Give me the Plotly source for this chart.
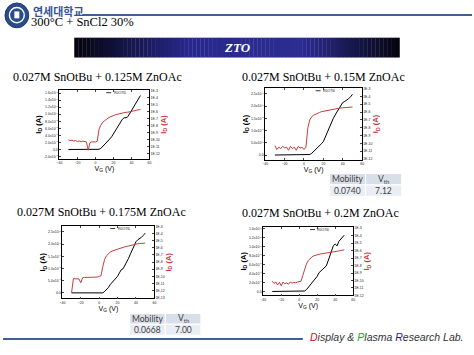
import plotly.graph_objects as go

W, H = 474, 355

# ---------------- data ----------------
VG = [-30, -28, -26, -24, -22, -20, -18, -16, -14, -12, -10, -8, -6, -4, -2, 0, 2,
      4, 6, 8, 10, 12, 14, 16, 18, 20, 22, 24, 26, 28, 30, 32, 34, 36, 38, 40, 42, 44, 46, 48, 50]

# drain current, units of 1e-7 A (linear, black)
ID_125 = [0, 0, 0, 0, 0, 0, 0, 0, 0, 0, 0, 0, 0, 0, 0, 0, 0,
          0.05, 0.3, 0.8, 1.3, 1.8, 2.4, 3.0, 3.6, 4.4, 5.2, 6.0, 6.8, 7.8, 8.6, 9.0, 9.0, 9.3, 10.2, 11.0, 11.9, 12.8, 13.6, 14.5, 15.3]
ID_150 = [0, 0, 0, 0, 0, 0, 0, 0, 0, 0, 0, 0, 0, 0, 0, 0, 0, 0,
          0.2, 0.7, 1.4, 2.2, 3.0, 3.8, 4.6, 5.5, 7.5, 9.5, 11.5, 13.3, 14.8, 16.3, 17.7, 19.2, 20.5, 21.5, 21.9, 22.3, 23.0, 23.8, 24.8]
ID_175 = [0, 0, 0, 0, 0, 0, 0, 0, 0, 0, 0, 0, 0, 0, 0, 0, 0, 0,
          0.6, 1.3, 2.2, 3.4, 4.3, 5.1, 5.9, 6.8, 8.2, 9.5, 9.9, 11.2, 12.6, 14.2, 16.0, 17.8, 19.5, 21.0, 21.8, 22.2, 22.8, 23.6, 24.5]
ID_200 = [0, 0, 0, 0, 0, 0, 0, 0, 0, 0, 0, 0, 0, 0, 0, 0, 0, 0,
          0.1, 0.4, 0.9, 1.4, 1.9, 2.4, 2.8, 3.4, 4.2, 4.6, 4.9, 5.3, 5.7, 6.8, 8.0, 9.2, 10.3, 10.6, 10.2, 11.2, 11.7, 12.1, 12.6]

# log10 of drain current (log axis, red)
LOGID_125 = [-10.0, -10.1, -10.05, -10.2, -10.1, -10.25, -10.15, -10.3, -10.2, -10.3, -10.3, -11.5, -10.4, -10.3, -10.35, -10.3, -10.2,
             -8.5, -7.9, -7.5, -7.3, -7.05, -6.9, -6.75, -6.6, -6.5, -6.42, -6.35, -6.28, -6.2, -6.15, -6.1, -6.06, -6.04, -6.0, -5.98, -5.9, -5.82, -5.75, -5.7, -5.65]
LOGID_150 = [-10.3, -10.8, -10.5, -10.7, -10.4, -10.6, -10.5, -10.9, -10.4, -10.7, -10.5, -10.9, -10.4, -10.6, -10.5, -10.8, -10.5,
             -8.0, -7.0, -6.6, -6.4, -6.25, -6.15, -6.05, -5.95, -5.9, -5.85, -5.8, -5.75, -5.7, -5.6, -5.57, -5.53, -5.5, -5.47, -5.45, -5.43, -5.41, -5.39, -5.37, -5.35]
LOGID_175 = [-12.3, -10.3, -10.35, -10.3, -10.35, -10.9, -10.2, -10.15, -10.15, -10.1, -10.15, -10.1, -10.1, -10.05, -10.1, -10.0, -9.9,
             -8.6, -7.6, -7.1, -6.8, -6.6, -6.45, -6.35, -6.25, -6.15, -6.05, -6.0, -5.9, -5.85, -5.8, -5.72, -5.65, -5.6, -5.52, -5.48, -5.42, -5.4, -5.38, -5.35, -5.33]
LOGID_200 = [-10.1, -10.4, -10.2, -10.6, -10.25, -10.7, -10.2, -10.45, -10.3, -10.5, -10.2, -10.35, -10.25, -10.3, -10.2, -10.15, -10.1,
             -9.3, -8.5, -7.8, -7.35, -7.05, -6.85, -6.72, -6.62, -6.55, -6.5, -6.45, -6.42, -6.38, -6.35, -6.3, -6.27, -6.22, -6.18, -6.15, -6.1, -6.05, -6.0, -5.95, -5.9]

TITLES = ["0.027M SnOtBu + 0.125M ZnOAc", "0.027M SnOtBu + 0.15M ZnOAc",
          "0.027M SnOtBu + 0.175M ZnOAc", "0.027M SnOtBu + 0.2M ZnOAc"]
LEGEND_NAME = "R0O7I0"

X_TICKS = [-40, -20, 0, 20, 40, 60]

LEFT_VALS_125 = [-2e-7, 0, 2e-7, 4e-7, 6e-7, 8e-7, 1.0e-6, 1.2e-6, 1.4e-6, 1.6e-6]
LEFT_TEXT_125 = ["-2.0x10<sup>-7</sup>", "0.0", "2.0x10<sup>-7</sup>", "4.0x10<sup>-7</sup>", "6.0x10<sup>-7</sup>",
                 "8.0x10<sup>-7</sup>", "1.0x10<sup>-6</sup>", "1.2x10<sup>-6</sup>", "1.4x10<sup>-6</sup>", "1.6x10<sup>-6</sup>"]
LEFT_VALS_25 = [0, 5e-7, 1.0e-6, 1.5e-6, 2.0e-6, 2.5e-6]
LEFT_TEXT_25 = ["0.0", "5.0x10<sup>-7</sup>", "1.0x10<sup>-6</sup>", "1.5x10<sup>-6</sup>", "2.0x10<sup>-6</sup>", "2.5x10<sup>-6</sup>"]
LEFT_VALS_200 = [0, 2e-7, 4e-7, 6e-7, 8e-7, 1.0e-6, 1.2e-6, 1.4e-6]
LEFT_TEXT_200 = ["0.0", "2.0x10<sup>-7</sup>", "4.0x10<sup>-7</sup>", "6.0x10<sup>-7</sup>", "8.0x10<sup>-7</sup>",
                 "1.0x10<sup>-6</sup>", "1.2x10<sup>-6</sup>", "1.4x10<sup>-6</sup>"]

RIGHT_VALS_12 = [1e-3, 1e-4, 1e-5, 1e-6, 1e-7, 1e-8, 1e-9, 1e-10, 1e-11, 1e-12]
RIGHT_TEXT_12 = ["1E-3", "1E-4", "1E-5", "1E-6", "1E-7", "1E-8", "1E-9", "1E-10", "1E-11", "1E-12"]
RIGHT_VALS_13 = [1e-3, 1e-4, 1e-5, 1e-6, 1e-7, 1e-8, 1e-9, 1e-10, 1e-11, 1e-12, 1e-13]
RIGHT_TEXT_13 = ["1E-3", "1E-4", "1E-5", "1E-6", "1E-7", "1E-8", "1E-9", "1E-10", "1E-11", "1E-12", "1E-13"]

TABLE_HEADER = ["Mobility", "V<sub>th</sub>"]
MOBILITY = ["0.0740", "0.0668"]
VTH = ["7.12", "7.00"]

# ---------------- layout helpers ----------------
def px(x):
    return x / W


def py(y):
    return 1 - y / H


charts = [
    dict(id=ID_125, lg=LOGID_125, frame=(57, 90, 148, 159), title_xy=(96, 77),
         lrange=[-2.6e-7, 1.68e-6], lv=LEFT_VALS_125, lt=LEFT_TEXT_125,
         rrange=[-12.7, -2.9], rv=RIGHT_VALS_12, rt=RIGHT_TEXT_12),
    dict(id=ID_150, lg=LOGID_150, frame=(265, 88, 363, 160), title_xy=(324, 77),
         lrange=[-1.9e-7, 2.73e-6], lv=LEFT_VALS_25, lt=LEFT_TEXT_25,
         rrange=[-12.1, -2.95], rv=RIGHT_VALS_12, rt=RIGHT_TEXT_12),
    dict(id=ID_175, lg=LOGID_175, frame=(60, 227, 153, 300), title_xy=(100, 213),
         lrange=[-2.3e-7, 2.74e-6], lv=LEFT_VALS_25, lt=LEFT_TEXT_25,
         rrange=[-13.1, -2.95], rv=RIGHT_VALS_13, rt=RIGHT_TEXT_13),
    dict(id=ID_200, lg=LOGID_200, frame=(263, 228, 354, 297), title_xy=(321, 214),
         lrange=[-0.9e-7, 1.44e-6], lv=LEFT_VALS_200, lt=LEFT_TEXT_200,
         rrange=[-12.0, -2.87], rv=RIGHT_VALS_12, rt=RIGHT_TEXT_12),
]

RED = "#c83c3c"
TICKF = dict(size=3.5, color="#222", family="Liberation Sans")

fig = go.Figure()
layout = dict(width=W, height=H, margin=dict(l=0, r=0, t=0, b=0),
              paper_bgcolor="white", plot_bgcolor="white", showlegend=False)
shapes, annotations = [], []

for i, c in enumerate(charts):
    xa = "x" if i == 0 else f"x{i+1}"
    yl = "y" if i == 0 else f"y{2*i+1}"
    yr = f"y{2*i+2}"
    xk = "xaxis" if i == 0 else f"xaxis{i+1}"
    ylk = "yaxis" if i == 0 else f"yaxis{2*i+1}"
    yrk = f"yaxis{2*i+2}"
    x0, y0, x1, y1 = c["frame"]

    fig.add_trace(go.Scatter(x=VG, y=[v * 1e-7 for v in c["id"]], xaxis=xa, yaxis=yl,
                             mode="lines", line=dict(color="black", width=1), name=LEGEND_NAME))
    fig.add_trace(go.Scatter(x=VG, y=[10 ** e for e in c["lg"]], xaxis=xa, yaxis=yr,
                             mode="lines", line=dict(color=RED, width=1)))

    layout[xk] = dict(domain=[px(x0), px(x1)], anchor=yl, range=[-40, 60],
                      tickmode="array", tickvals=X_TICKS, tickfont=TICKF,
                      ticks="inside", ticklen=2, tickwidth=0.6,
                      showline=True, linecolor="black", linewidth=0.8, mirror="ticks",
                      showgrid=False, zeroline=False,
                      title=dict(text="V<sub>G</sub> (V)", standoff=1,
                                 font=dict(size=7, family="Liberation Sans", color="black")))
    layout[ylk] = dict(domain=[py(y1), py(y0)], anchor=xa, range=c["lrange"],
                       tickmode="array", tickvals=c["lv"], ticktext=c["lt"], tickfont=TICKF,
                       ticks="inside", ticklen=2, tickwidth=0.6,
                       showline=True, linecolor="black", linewidth=0.8, mirror=True,
                       showgrid=False, zeroline=False,
                       title=dict(text="<b>I<sub>D</sub> (A)</b>", standoff=1,
                                  font=dict(size=7.5, family="Liberation Sans", color="black")))
    layout[yrk] = dict(overlaying=yl, side="right", anchor=xa, type="log", range=c["rrange"],
                       tickmode="array", tickvals=c["rv"], ticktext=c["rt"], tickfont=TICKF,
                       ticks="inside", ticklen=2, tickwidth=0.6,
                       showline=False, showgrid=False, zeroline=False,
                       title=dict(text="<b>I<sub>D</sub> (A)</b>", standoff=1,
                                  font=dict(size=7.5, family="Liberation Sans", color=RED)))

    # chart title
    tx, ty = c["title_xy"]
    annotations.append(dict(x=px(tx), y=py(ty), xref="paper", yref="paper", text=TITLES[i],
                            showarrow=False, xanchor="center", yanchor="middle",
                            font=dict(size=12, family="Liberation Serif", color="black")))
    # small in-plot legend
    lx = x0 + 0.52 * (x1 - x0)
    ly = y0 + 2.5
    shapes.append(dict(type="line", xref="paper", yref="paper", x0=px(lx), x1=px(lx + 5),
                       y0=py(ly), y1=py(ly), line=dict(color="black", width=0.8)))
    annotations.append(dict(x=px(lx + 5.5), y=py(ly), xref="paper", yref="paper", text=LEGEND_NAME,
                            showarrow=False, xanchor="left", yanchor="middle",
                            font=dict(size=3.5, family="Liberation Sans", color="#222")))

# ---------------- mobility tables (drawn as cells) ----------------
TFONT = dict(size=8.5, color="#404040", family="Lato")
for (tx0, ty0, tx1, ty1), mob, vth in [((330, 174, 403, 197), MOBILITY[0], VTH[0]),
                                       ((128, 315, 200, 337), MOBILITY[1], VTH[1])]:
    xm = (tx0 + tx1) / 2
    ym = (ty0 + ty1) / 2
    cells = [((tx0, ty0, xm, ym), "#d9dfe9", TABLE_HEADER[0]),
             ((xm, ty0, tx1, ym), "#d9dfe9", TABLE_HEADER[1]),
             ((tx0, ym, xm, ty1), "#e9edf4", mob),
             ((xm, ym, tx1, ty1), "#e9edf4", vth)]
    for (cx0, cy0, cx1, cy1), col, txt in cells:
        shapes.append(dict(type="rect", xref="paper", yref="paper", x0=px(cx0), x1=px(cx1),
                           y0=py(cy1), y1=py(cy0), fillcolor=col, line=dict(color="white", width=1)))
        annotations.append(dict(x=px((cx0 + cx1) / 2), y=py((cy0 + cy1) / 2), xref="paper", yref="paper",
                                text=txt, showarrow=False, xanchor="center", yanchor="middle", font=TFONT))

# ---------------- slide decorations ----------------
# logo
shapes.append(dict(type="circle", xref="paper", yref="paper", x0=px(2), x1=px(26), y0=py(27), y1=py(2),
                   fillcolor="#2b4c8c", line=dict(color="#1f3a70", width=1)))
shapes.append(dict(type="circle", xref="paper", yref="paper", x0=px(6.5), x1=px(21.5), y0=py(22), y1=py(6.5),
                   fillcolor="rgba(0,0,0,0)", line=dict(color="white", width=1.4)))
shapes.append(dict(type="rect", xref="paper", yref="paper", x0=px(11.5), x1=px(16.5), y0=py(17.5), y1=py(10.5),
                   fillcolor="white", line=dict(width=0)))
annotations.append(dict(x=px(28), y=py(10), xref="paper", yref="paper", text="<b>연세대학교</b>",
                        showarrow=False, xanchor="left", yanchor="middle",
                        font=dict(size=11, family="Noto Sans CJK KR", color="#34549a")))
annotations.append(dict(x=px(26), y=py(21), xref="paper", yref="paper", text="300°C + SnCl2 30%",
                        showarrow=False, xanchor="left", yanchor="middle",
                        font=dict(size=12.5, family="Liberation Serif", color="black")))
# top line
shapes.append(dict(type="line", xref="paper", yref="paper", x0=px(80), x1=1, y0=py(14), y1=py(14),
                   line=dict(color="#3e6193", width=2)))
# gradient bar
BX0, BX1, BY0, BY1 = 72, 401, 37, 57
stops = [(0.0, (4, 4, 12)), (0.35, (40, 40, 140)), (0.7, (44, 44, 145)), (1.0, (4, 4, 14))]


def grad(t):
    for (t0, c0), (t1, c1) in zip(stops[:-1], stops[1:]):
        if t0 <= t <= t1:
            f = (t - t0) / (t1 - t0)
            return "rgb(%d,%d,%d)" % tuple(round(a + (b - a) * f) for a, b in zip(c0, c1))
    return "rgb(4,4,14)"


NS = 80
for k in range(NS):
    xa0 = BX0 + (BX1 - BX0) * k / NS
    xa1 = BX0 + (BX1 - BX0) * (k + 1) / NS + 0.3
    shapes.append(dict(type="rect", xref="paper", yref="paper", x0=px(xa0), x1=px(min(xa1, BX1)),
                       y0=py(BY1), y1=py(BY0), fillcolor=grad((k + 0.5) / NS), line=dict(width=0), layer="below"))
annotations.append(dict(x=px(237), y=py(47), xref="paper", yref="paper", text="<b><i>ZTO</i></b>",
                        showarrow=False, xanchor="center", yanchor="middle",
                        font=dict(size=13, family="Liberation Serif", color="white")))
# footer
shapes.append(dict(type="line", xref="paper", yref="paper", x0=0, x1=px(303), y0=py(341), y1=py(341),
                   line=dict(color="#3e6193", width=2)))
footer = ("<i><span style='color:#cc1111'>D</span>isplay &amp; "
          "<span style='color:#22aa22'>P</span>lasma "
          "<span style='color:#1a1aa0'>R</span>esearch Lab.</i>")
annotations.append(dict(x=px(308), y=py(339), xref="paper", yref="paper", text=footer,
                        showarrow=False, xanchor="left", yanchor="middle",
                        font=dict(size=10.5, family="Liberation Sans", color="#333333")))

layout["shapes"] = shapes
layout["annotations"] = annotations
fig.update_layout(**layout)
fig.write_html("out.html", config={"displayModeBar": False},
               post_script="document.body.style.margin='0px';")
